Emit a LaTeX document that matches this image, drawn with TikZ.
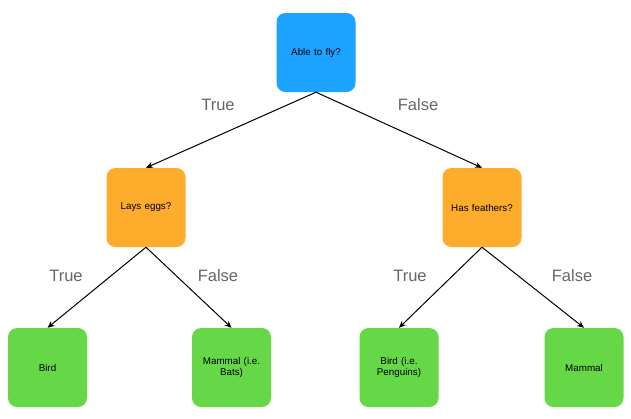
\documentclass[tikz,border=0pt]{standalone}
\usepackage{fontspec}
\setmainfont{Liberation Sans}
\usepackage{xcolor}
\usetikzlibrary{arrows.meta, positioning}

\definecolor{flyblue}{HTML}{1CA2FF}
\definecolor{askorange}{HTML}{FDAC2C}
\definecolor{leafgreen}{HTML}{66D747}
\definecolor{labelgray}{HTML}{666666}

\begin{document}
\begin{tikzpicture}[x=1pt, y=-1pt,
  box/.style={rounded corners=9pt, minimum height=79pt, minimum width=79pt,
              text width=72pt, align=center, font=\fontsize{9.8}{11.5}\selectfont, inner sep=0pt},
  arrow/.style={-{Stealth[length=7pt, width=6pt]}, line width=1pt},
  note/.style={font=\fontsize{16.5}{18}\selectfont, text=labelgray},
]
\useasboundingbox (0,0) rectangle (631,418);

% Boxes
\node[box, fill=flyblue]    (fly)  at (316,52.5)  {Able to fly?};
\node[box, fill=askorange]  (eggs) at (146,207.5) {Lays eggs?};
\node[box, fill=askorange]  (feat) at (482,207.5) {Has feathers?};
\node[box, fill=leafgreen]  (bird) at (47.5,367.5)  {Bird};
\node[box, fill=leafgreen]  (bats) at (231.5,367.5) {Mammal (i.e.\\Bats)};
\node[box, fill=leafgreen]  (peng) at (399,367.5)   {Bird (i.e.\\Penguins)};
\node[box, fill=leafgreen]  (mamm) at (584,367.5)   {Mammal};

% Arrows
\draw[arrow] (fly.south)  -- (eggs.north);
\draw[arrow] (fly.south)  -- (feat.north);
\draw[arrow] (eggs.south) -- (bird.north);
\draw[arrow] (eggs.south) -- (bats.north);
\draw[arrow] (feat.south) -- (peng.north);
\draw[arrow] (feat.south) -- (mamm.north);

% Labels
\node[note] (t1) at (218,105) {True};
\node[note] (f1) at (418,105) {False};
\node[note] (t2) at (66,276)  {True};
\node[note] (f2) at (218,276) {False};
\node[note] (t3) at (410,276) {True};
\node[note] (f3) at (572,276) {False};
\end{tikzpicture}
\end{document}
